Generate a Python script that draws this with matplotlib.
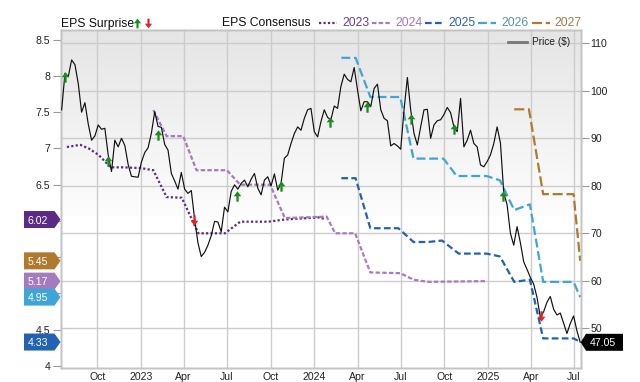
import numpy as np
import pandas as pd
import matplotlib
matplotlib.use("Agg")
import matplotlib.pyplot as plt
import matplotlib.dates as mdates
import matplotlib.transforms as mtransforms
from matplotlib.path import Path
from matplotlib.patches import Polygon
from matplotlib.lines import Line2D
from matplotlib.ticker import FuncFormatter, FixedLocator

plt.rcParams['font.family'] = ['Liberation Sans', 'DejaVu Sans']

# ---------------- data ----------------
price_start = "2022-07-18"
price_values = [
    96.0, 103.7, 103.0, 106.5, 105.5, 101.5, 95.5, 97.5, 93.0, 89.6,
    90.5, 92.8, 91.9, 92.1, 86.5, 83.0, 89.6, 88.2, 90.0, 88.5,
    84.5, 82.0, 81.9, 81.8, 85.0, 87.0, 88.0, 91.1, 95.6, 92.5,
    92.3, 88.7, 87.5, 82.6, 81.0, 79.3, 82.8, 79.3, 78.4, 79.0,
    73.0, 68.0, 65.1, 66.0, 67.5, 69.5, 72.5, 72.4, 70.3, 75.5,
    74.5, 78.8, 80.2, 79.3, 80.5, 81.2, 79.8, 81.4, 82.6, 79.5,
    78.1, 81.2, 81.9, 80.0, 82.5, 79.1, 80.5, 85.8, 86.5, 88.9,
    91.0, 92.4, 91.7, 94.2, 96.0, 96.3, 91.4, 90.3, 93.5, 96.0,
    94.4, 93.9, 96.8, 96.3, 100.9, 103.5, 102.4, 101.9, 104.9, 100.2,
    95.8, 97.7, 97.7, 96.7, 100.5, 101.4, 96.0, 94.2, 93.7, 88.4,
    88.9, 88.4, 87.7, 96.0, 102.8, 96.0, 91.0, 88.6, 92.4, 96.0,
    96.1, 90.0, 92.8, 93.7, 93.9, 95.0, 96.5, 95.4, 92.4, 91.4,
    98.4, 88.2, 89.6, 91.7, 88.9, 88.2, 84.4, 84.0, 85.1, 86.5,
    88.9, 92.4, 89.0, 78.5, 76.0, 70.0, 67.5, 71.4, 68.0, 64.0,
    62.4, 60.7, 59.3, 56.5, 52.3, 53.5, 55.5, 56.7, 54.0, 52.8,
    53.2, 51.1, 48.9, 51.0, 52.6, 49.5, 47.05,
]

eps_2023_dates = ["2022-07-29", "2022-08-26", "2022-09-13", "2022-10-04", "2022-10-29",
                  "2022-11-22", "2022-12-31", "2023-01-27", "2023-02-24", "2023-03-28",
                  "2023-05-02", "2023-06-27", "2023-07-29", "2023-09-26", "2023-10-31",
                  "2024-01-13", "2024-01-25"]
eps_2023_values = [7.02, 7.05, 7.00, 6.91, 6.74, 6.74, 6.73, 6.70, 6.33, 6.32,
                   5.83, 5.83, 5.99, 5.99, 6.02, 6.05, 6.02]

eps_2024_dates = ["2023-01-27", "2023-02-24", "2023-03-31", "2023-04-28", "2023-07-01",
                  "2023-07-29", "2023-09-30", "2023-10-31", "2024-01-27", "2024-02-14",
                  "2024-03-27", "2024-04-28", "2024-06-30", "2024-07-28", "2024-08-28",
                  "2024-12-26"]
eps_2024_values = [7.53, 7.17, 7.17, 6.70, 6.70, 6.50, 6.50, 6.04, 6.06, 5.83,
                   5.83, 5.29, 5.28, 5.19, 5.16, 5.17]

eps_2025_dates = ["2024-02-27", "2024-03-28", "2024-04-28", "2024-06-26", "2024-07-28",
                  "2024-08-28", "2024-09-26", "2024-10-31", "2024-12-29", "2025-01-26",
                  "2025-02-25", "2025-03-30", "2025-04-27", "2025-06-30", "2025-07-15"]
eps_2025_values = [6.59, 6.59, 5.90, 5.90, 5.71, 5.71, 5.73, 5.55, 5.55, 5.51,
                   5.16, 5.19, 4.38, 4.38, 4.33]

eps_2026_dates = ["2024-02-27", "2024-03-28", "2024-04-28", "2024-06-30", "2024-07-28",
                  "2024-09-29", "2024-10-27", "2024-12-29", "2025-01-26", "2025-02-25",
                  "2025-03-30", "2025-04-27", "2025-06-30", "2025-07-14"]
eps_2026_values = [8.25, 8.25, 7.71, 7.71, 6.86, 6.86, 6.62, 6.62, 6.56, 6.15,
                   6.23, 5.16, 5.16, 4.95]

eps_2027_dates = ["2025-02-25", "2025-03-28", "2025-04-27", "2025-06-30", "2025-07-14"]
eps_2027_values = [7.54, 7.54, 6.37, 6.37, 5.45]

surprise_dates = ["2022-07-25", "2022-10-24", "2023-02-05", "2023-04-23", "2023-07-23",
                  "2023-10-22", "2024-02-04", "2024-04-22", "2024-07-22", "2024-10-21",
                  "2025-02-02", "2025-04-22"]
surprise_prices = [102.97, 85.22, 90.69, 72.8, 77.85, 80.02, 93.5, 96.53, 94.0, 91.9,
                   77.9, 52.6]
surprise_dirs = ["up", "up", "up", "down", "up", "up", "up", "up", "up", "up", "up", "down"]

years = ["2023", "2024", "2025", "2026", "2027"]
eps_tick_values = [4, 4.5, 5, 5.5, 6, 6.5, 7, 7.5, 8, 8.5]
eps_tick_hidden = [5, 5.5, 6]   # covered by the value badges in the reference
price_tick_values = [50, 60, 70, 80, 90, 100, 110]

# ---------------- styles ----------------
series = {
    "2023": dict(dates=eps_2023_dates, values=eps_2023_values, color="#5b2a86",
                 text="#6a3f93", ls=(0, (1, 1))),
    "2024": dict(dates=eps_2024_dates, values=eps_2024_values, color="#a57bc0",
                 text="#9e7bbb", ls=(0, (2, 1))),
    "2025": dict(dates=eps_2025_dates, values=eps_2025_values, color="#2262b0",
                 text="#2f63a8", ls=(0, (3, 1.5))),
    "2026": dict(dates=eps_2026_dates, values=eps_2026_values, color="#3ea6d6",
                 text="#5a8fb8", ls=(0, (4, 1.7))),
    "2027": dict(dates=eps_2027_dates, values=eps_2027_values, color="#b07a2e",
                 text="#a27a45", ls=(0, (4.5, 1.7))),
}

W, H = 640, 382
fig = plt.figure(figsize=(W / 100, H / 100), dpi=100)
L, R, T, B = 60.7, 580.7, 30, 368
rect = [L / W, 1 - B / H, (R - L) / W, (B - T) / H]

ax_bg = fig.add_axes(rect)
ax_eps = ax_bg.twinx()
ax_pr = ax_bg.twinx()

xmin, xmax = pd.Timestamp("2022-07-16"), pd.Timestamp("2025-07-15")
eps_lim = (3.972, 8.634)
price_lim = (41.64, 112.8)

# background: vertical gradient, light grey at top fading to white
t = np.linspace(0, 1, 256)
shade = np.where(t < 0.45, 255.0,
                 253 - (253 - 229) * np.clip((t - 0.45) / 0.55, 0, 1)) / 255.0
col = np.stack([shade, shade, shade], axis=-1)[::-1]
grad = col[:, None, :]
ax_bg.imshow(grad, extent=[0, 1, 0, 1], transform=ax_bg.transAxes, aspect="auto",
             zorder=0, interpolation="bilinear")

for a in (ax_bg, ax_eps, ax_pr):
    a.set_xlim(xmin, xmax)
ax_bg.set_ylim(*price_lim)
ax_pr.set_ylim(*price_lim)
ax_eps.set_ylim(*eps_lim)

# grid
ax_bg.xaxis.set_major_locator(mdates.MonthLocator(bymonth=[1, 4, 7, 10]))
def qfmt(x, pos):
    d = mdates.num2date(x)
    return str(d.year) if d.month == 1 else d.strftime("%b")
ax_bg.xaxis.set_major_formatter(FuncFormatter(qfmt))
ax_bg.set_yticks(price_tick_values)
ax_bg.grid(True, color="#cccccc", lw=1.0, zorder=1)
ax_bg.set_axisbelow(True)
ax_bg.yaxis.tick_right()
ax_bg.tick_params(axis="y", which="both", right=True, left=False, length=5.5, width=0.8,
                  color="#999999", pad=1.5, labelsize=7.6, labelcolor="#222222")
ax_bg.tick_params(axis="x", length=0, pad=3, labelsize=7.6, labelcolor="#222222")

for a in (ax_bg, ax_eps, ax_pr):
    for s in a.spines.values():
        s.set_color("#c4c4c4")
        s.set_linewidth(1.0)
    a.patch.set_visible(False)

# EPS axis (left)
ax_eps.yaxis.tick_left()
ax_eps.yaxis.set_major_locator(FixedLocator(eps_tick_values))
ax_eps.yaxis.set_major_formatter(
    FuncFormatter(lambda v, p: "" if any(abs(v - h) < 1e-9 for h in eps_tick_hidden) else f"{v:g}"))
ax_eps.tick_params(axis="y", left=True, right=False, length=5.5, width=0.8, color="#999999",
                   pad=2, labelsize=7.6, labelcolor="#222222")
ax_eps.tick_params(axis="x", bottom=False, labelbottom=False)
ax_pr.set_yticks([])
ax_pr.tick_params(axis="x", bottom=False, labelbottom=False)

for y in years:
    s = series[y]
    ax_eps.plot(pd.to_datetime(s["dates"]), s["values"], color=s["color"], lw=1.6,
                linestyle=s["ls"], solid_capstyle="butt", dash_capstyle="butt", zorder=3)

# price
price_dates = pd.date_range(price_start, periods=len(price_values), freq="7D")
ax_pr.plot(price_dates, price_values, color="#111111", lw=0.85, zorder=4)

# arrows
up_path = Path([(-0.11, -0.5), (0.11, -0.5), (0.11, 0.02), (0.37, 0.02), (0.0, 0.5),
                (-0.37, 0.02), (-0.11, 0.02), (-0.11, -0.5)], closed=True)
down_path = Path([(x, -y) for x, y in up_path.vertices], closed=True)
green, red = "#1c8c1c", "#e8201e"
for d, p, k in zip(surprise_dates, surprise_prices, surprise_dirs):
    ax_pr.plot([pd.Timestamp(d)], [p], linestyle="none",
               marker=up_path if k == "up" else down_path, markersize=7.5,
               color=green if k == "up" else red, markeredgewidth=0, zorder=5)

# price legend inside plot
ax_pr.add_line(Line2D([0.8596, 0.8962], [0.9654, 0.9654], transform=ax_pr.transAxes,
                      color="#777777", lw=2))
ax_pr.text(0.9065, 0.9654, "Price ($)", transform=ax_pr.transAxes, fontsize=7.3,
           va="center", ha="left", color="#222222")

# left badges
btr = mtransforms.blended_transform_factory(fig.transFigure, ax_eps.transData)
hh = 8.5 / 72.5
for y in sorted(years, key=lambda k: -series[k]["values"][-1]):
    v = series[y]["values"][-1]
    x0, x1, x2 = 24 / W, 54.5 / W, 60.5 / W
    poly = Polygon([(x0, v - hh), (x1, v - hh), (x2, v), (x1, v + hh), (x0, v + hh)],
                   closed=True, transform=btr, facecolor=series[y]["color"],
                   edgecolor="none", clip_on=False, zorder=10)
    fig.add_artist(poly)
    fig.text(27.5 / W, 0, f"{v:.2f}", transform=btr, color="white", fontsize=7.6,
             va="center_baseline", ha="left", zorder=11).set_y(v)

# right badge
rtr = mtransforms.blended_transform_factory(fig.transFigure, ax_pr.transData)
pv = price_values[-1]
ph = 8.5 / 4.75
poly = Polygon([(580.7 / W, pv), (586 / W, pv - ph), (623 / W, pv - ph), (623 / W, pv + ph),
                (586 / W, pv + ph)], closed=True, transform=rtr, facecolor="black",
               edgecolor="none", clip_on=False, zorder=10)
fig.add_artist(poly)
fig.text(590 / W, 0, f"{pv:.2f}", transform=rtr, color="white", fontsize=7.6,
         va="center_baseline", ha="left", zorder=11).set_y(pv)

# top legend
yb = 1 - 26.5 / H
yc = 1 - 22.5 / H
fs = 8.7
fig.text(61 / W, yb, "EPS Surprise", fontsize=fs, color="#111111", va="baseline")
fig.add_artist(Line2D([137.3 / W], [yc], transform=fig.transFigure, marker=up_path,
                      markersize=7, color=green, markeredgewidth=0, linestyle="none"))
fig.add_artist(Line2D([147.5 / W], [yc], transform=fig.transFigure, marker=down_path,
                      markersize=7, color=red, markeredgewidth=0, linestyle="none"))
fig.text(221.5 / W, yb, "EPS Consensus", fontsize=fs, color="#111111", va="baseline")
legend_x = {"2023": (319.3, 336.7, 342.7), "2024": (371.7, 391.7, 395.0),
            "2025": (425.0, 445.0, 448.3), "2026": (478.3, 496.0, 501.7),
            "2027": (531.7, 550.0, 554.3)}
for y in years:
    a, b, c = legend_x[y]
    s = series[y]
    fig.add_artist(Line2D([a / W, b / W], [yc, yc], transform=fig.transFigure,
                          color=s["color"], lw=1.6, linestyle=s["ls"],
                          dash_capstyle="butt"))
    fig.text(c / W, yb, y, fontsize=fs, color=s["text"], va="baseline")

fig.savefig("out.png", dpi=100)
